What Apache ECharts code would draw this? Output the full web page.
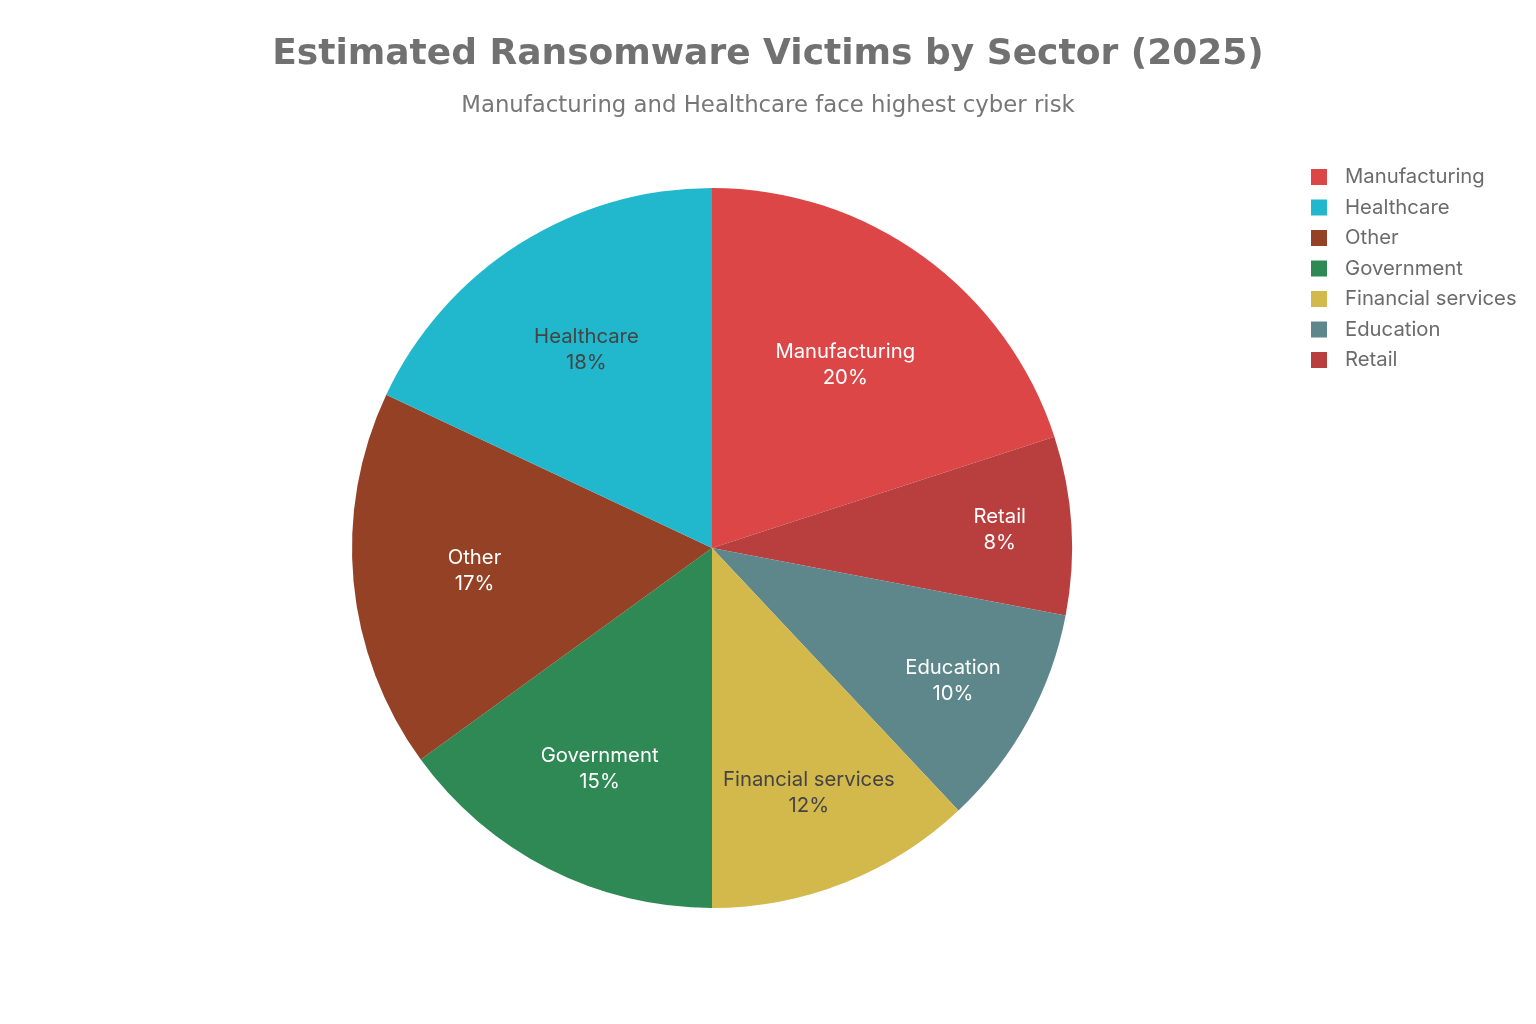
<!DOCTYPE html>
<html>
<head>
<meta charset="utf-8">
<script src="https://cdn.jsdelivr.net/npm/echarts@6/dist/echarts.min.js"></script>
<style>
html,body{margin:0;padding:0;background:#fff;}
#chart{width:1536px;height:1024px;}
</style>
</head>
<body>
<div id="chart"></div>
<script>
// Slice order (clockwise from 12 o'clock)
const sectors = ['Manufacturing', 'Retail', 'Education', 'Financial services', 'Government', 'Other', 'Healthcare'];
const shares = [20, 8, 10, 12, 15, 17, 18];
const sliceColors = ['#DC4647', '#B83F3D', '#5D878B', '#D3B84C', '#2E8955', '#944125', '#21B7CC'];
const labelColors = ['#ffffff', '#ffffff', '#ffffff', '#444444', '#ffffff', '#ffffff', '#444444'];
// Legend order
const legendOrder = ['Manufacturing', 'Healthcare', 'Other', 'Government', 'Financial services', 'Education', 'Retail'];

const titleText = 'Estimated Ransomware Victims by Sector (2025)';
const subtitleText = 'Manufacturing and Healthcare face highest cyber risk';

const CX = 712, CY = 548, R = 360;
const total = shares.reduce((a, b) => a + b, 0);
const starts = [];
shares.reduce((acc, v, i) => { starts[i] = acc; return acc + v; }, 0);

const chart = echarts.init(document.getElementById('chart'));
const pieData = sectors.map((s, i) => ({
  name: s, value: shares[i],
  itemStyle: { color: sliceColors[i] },
  label: { color: labelColors[i] }
}));

chart.setOption({
  backgroundColor: '#ffffff',
  color: sliceColors,
  title: [
    { text: titleText, left: 'center', top: 32,
      textStyle: { fontFamily: 'DejaVu Sans', fontWeight: 'bold', fontSize: 36, color: '#717171' } },
    { text: subtitleText, left: 'center', top: 90,
      textStyle: { fontFamily: 'DejaVu Sans', fontWeight: 'normal', fontSize: 22.8, color: '#777777' } }
  ],
  legend: {
    data: legendOrder,
    orient: 'vertical',
    left: 1306,
    top: 162,
    itemWidth: 16,
    itemHeight: 16,
    itemGap: 10.5,
    icon: 'rect',
    textStyle: { fontFamily: 'Inter', fontSize: 20.3, color: '#6b6b6b', padding: [0, 0, 0, 13] }
  },
  series: [
    {
      type: 'pie',
      center: [CX, CY],
      radius: [0, R],
      startAngle: 90,
      clockwise: true,
      avoidLabelOverlap: false,
      data: pieData,
      label: {
        show: true,
        position: 'inside',
        formatter: p => p.name + '\n' + p.value + '%',
        fontFamily: 'Inter',
        fontSize: 20.3,
        lineHeight: 26,
        align: 'center'
      },
      labelLine: { show: false },
      // place each label at the centre of the slice's inscribed circle
      labelLayout: function (p) {
        const i = p.dataIndex;
        const half = shares[i] / total * Math.PI;
        const mid = (starts[i] + shares[i] / 2) / total * 2 * Math.PI;
        const rc = R / (1 + Math.sin(half));
        return {
          x: CX + rc * Math.sin(mid),
          y: CY - rc * Math.cos(mid),
          align: 'center',
          verticalAlign: 'middle'
        };
      },
      itemStyle: { borderWidth: 0 },
      emphasis: { scale: false }
    }
  ]
});
</script>
</body>
</html>
